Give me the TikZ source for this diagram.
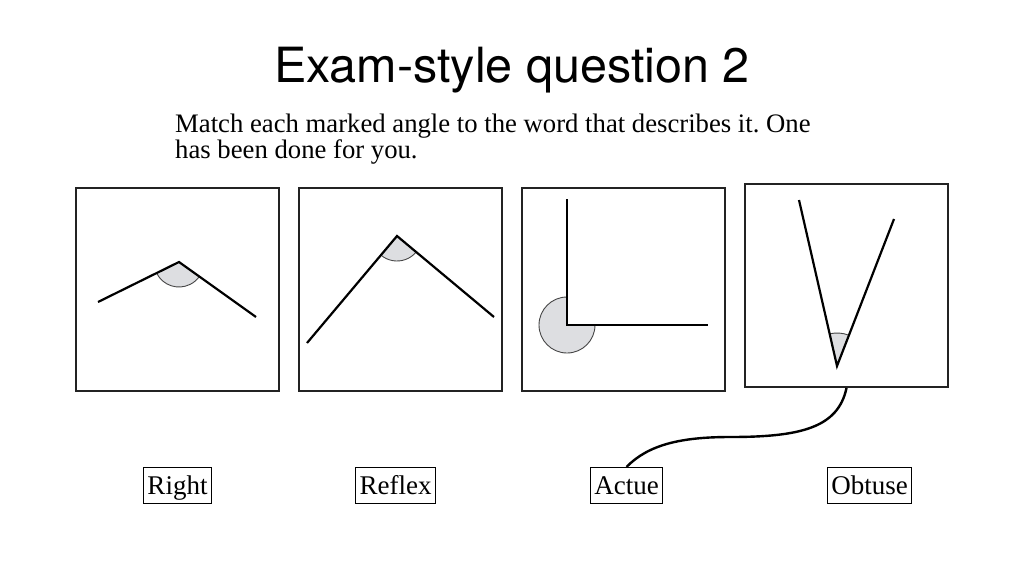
\documentclass[tikz,border=0pt]{standalone}
\usepackage{fontspec}
\setmainfont{Liberation Serif}
\newfontfamily\titlefont{TeX Gyre Heros}
\usetikzlibrary{angles}
\definecolor{angfill}{RGB}{221,222,225}
\definecolor{frame}{RGB}{35,35,35}
\definecolor{arcline}{RGB}{70,70,70}
\frenchspacing
\begin{document}
\begin{tikzpicture}[x=1pt,y=-1pt,
  panel/.style={draw=frame,line width=2pt,minimum size=203pt,inner sep=0pt},
  arm/.style={line width=2.2pt,black},
  angmark/.style={draw=arcline,fill=angfill,line width=0.9pt},
  lbl/.style={draw=black,line width=1.1pt,minimum height=36pt,inner xsep=4pt,inner ysep=0pt,
    text height=18pt,text depth=0pt,font=\fontsize{27}{27}\selectfont},
  body/.style={anchor=base west,inner sep=0pt,font=\fontsize{26.7}{26.7}\selectfont},
  link/.style={line width=2.4pt,black}]
\useasboundingbox (0,0) rectangle (1024,576);
\fill[white] (0,0) rectangle (1024,576);
% title and question
\node[anchor=base,inner sep=0pt,font=\titlefont\fontsize{48.5}{48.5}\selectfont] (title) at (512,82) {Exam-style question 2};
\node[body] (q1) at (175,132) {Match each marked angle to the word that describes it. One};
\node[body] (q2) at (175,158) {has been done for you.};
% panels
\node[panel] (P1) at (177.5,289.5) {};
\node[panel] (P2) at (400.5,289.5) {};
\node[panel] (P3) at (623.5,289.5) {};
\node[panel] (P4) at (846.5,285.5) {};
% panel 1
\coordinate (L1) at (98,302); \coordinate (V1) at (179,262); \coordinate (R1) at (256,317);
\pic[angmark,angle radius=25pt] {angle=L1--V1--R1};
\draw[arm] (L1) -- (V1) -- (R1);
% panel 2
\coordinate (L2) at (307,343); \coordinate (V2) at (397,236); \coordinate (R2) at (494,317);
\pic[angmark,angle radius=25pt] {angle=L2--V2--R2};
\draw[arm] (L2) -- (V2) -- (R2);
% panel 3
\coordinate (U3) at (567,199); \coordinate (V3) at (567,325); \coordinate (R3) at (708,325);
\pic[angmark,angle radius=28pt] {angle=U3--V3--R3};
\draw[arm] (U3) -- (V3) -- (R3);
% panel 4
\coordinate (L4) at (799,200); \coordinate (V4) at (837,366); \coordinate (R4) at (894,219);
\pic[angmark,angle radius=33pt] {angle=R4--V4--L4};
\draw[arm] (L4) -- (V4) -- (R4);
% labels
\node[lbl] (Right) at (177.5,485.5) {Right};
\node[lbl] (Reflex) at (395.5,485.5) {Reflex};
\node[lbl] (Actue) at (626.5,485.5) {Actue};
\node[lbl] (Obtuse) at (869.5,485.5) {Obtuse};
% matching link
\coordinate (cmid) at (730,437);
\draw[link] (P4.south) .. controls (838,428) and (800,437) .. (cmid)
  .. controls (680,437) and (648,445) .. (Actue.north);
\end{tikzpicture}
\end{document}
